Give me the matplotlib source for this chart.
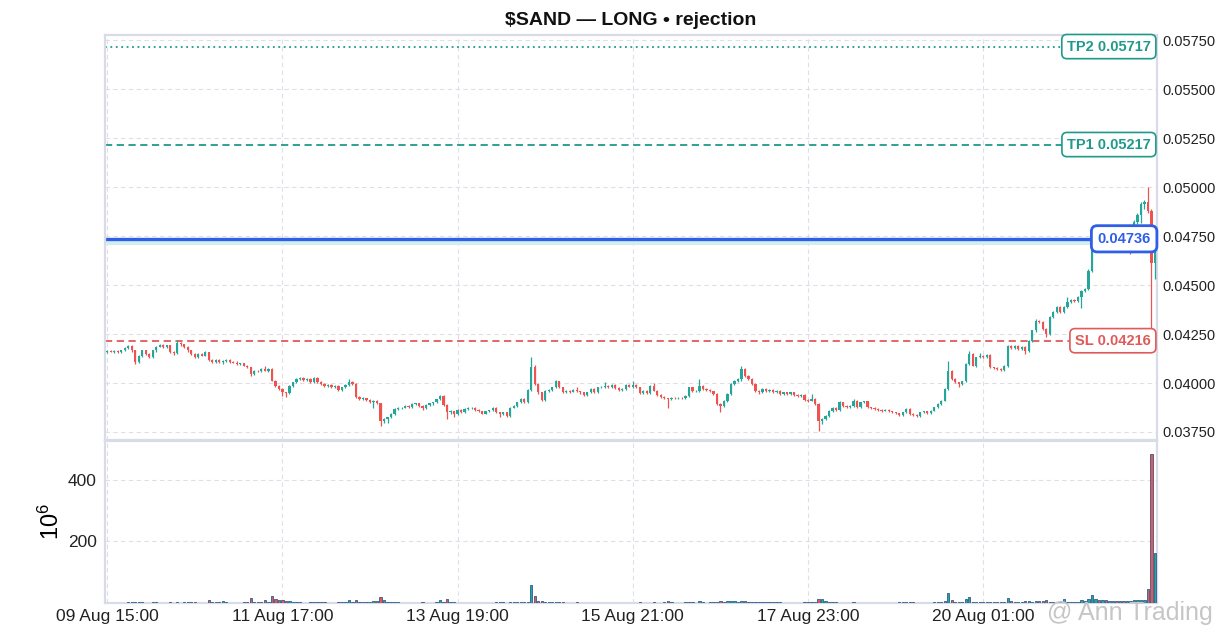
import matplotlib
matplotlib.use("Agg")
import matplotlib.pyplot as plt
import matplotlib.transforms as mtransforms
import numpy as np
import pandas as pd

plt.rcParams['font.family'] = ['Liberation Sans', 'DejaVu Sans']
plt.rcParams['mathtext.fontset'] = 'custom'
plt.rcParams['mathtext.rm'] = 'Liberation Sans'

# hourly candles, prices in units of 1e-5
start = '2025-08-09 15:00'

opens = [
    4158, 4165, 4160, 4164, 4156, 4166, 4178, 4190, 4166, 4106,
    4140, 4166, 4149, 4132, 4166, 4186, 4192, 4186, 4192, 4157,
    4152, 4203, 4197, 4183, 4166, 4149, 4132, 4149, 4140, 4157,
    4115, 4106, 4118, 4106, 4112, 4118, 4108, 4104, 4097, 4100,
    4089, 4080, 4046, 4063, 4060, 4072, 4063, 4072, 4012, 3986,
    3969, 3952, 3947, 3986, 4003, 4021, 4026, 4015, 4021, 4003,
    4026, 4003, 3995, 3986, 3991, 3978, 3986, 3964, 3978, 3991,
    4003, 3995, 3930, 3918, 3923, 3913, 3901, 3909, 3896, 3807,
    3815, 3824, 3841, 3867, 3872, 3875, 3884, 3879, 3892, 3896,
    3884, 3872, 3889, 3896, 3901, 3918, 3935, 3889, 3850, 3855,
    3844, 3861, 3850, 3867, 3870, 3875, 3861, 3855, 3844, 3855,
    3861, 3872, 3850, 3841, 3850, 3832, 3875, 3884, 3901, 3918,
    3901, 3964, 4080, 3995, 3952, 3913, 3961, 3964, 3978, 4009,
    3978, 3952, 3961, 3956, 3965, 3957, 3952, 3940, 3952, 3969,
    3952, 3978, 3981, 3986, 3978, 3991, 3974, 3964, 3969, 3991,
    3981, 3991, 3978, 3947, 3961, 3947, 3986, 3961, 3940, 3930,
    3923, 3918, 3926, 3921, 3926, 3923, 3935, 3978, 3957, 3961,
    3986, 3969, 3964, 3957, 3944, 3892, 3884, 3909, 3944, 3995,
    4012, 4018, 4072, 4038, 4021, 3995, 3961, 3952, 3969, 3957,
    3964, 3952, 3961, 3944, 3952, 3944, 3952, 3940, 3935, 3940,
    3913, 3910, 3918, 3893, 3807, 3816, 3833, 3855, 3872, 3862,
    3901, 3884, 3876, 3884, 3910, 3879, 3901, 3906, 3876, 3872,
    3867, 3862, 3859, 3862, 3855, 3850, 3845, 3838, 3850, 3867,
    3842, 3838, 3833, 3850, 3855, 3845, 3859, 3876, 3893, 3910,
    3969, 4063, 4020, 4003, 3995, 4009, 4097, 4148, 4089, 4131,
    4140, 4131, 4145, 4080, 4077, 4072, 4066, 4089, 4191, 4179,
    4191, 4174, 4186, 4165, 4216, 4268, 4319, 4310, 4276, 4250,
    4336, 4361, 4387, 4361, 4387, 4412, 4424, 4417, 4438, 4472,
    4481, 4574, 4720, 4760, 4745, 4770, 4740, 4760, 4775, 4750,
    4770, 4755, 4780, 4760, 4820, 4860, 4915, 4926, 4878, 4612,
]
highs = [
    4168, 4170, 4168, 4170, 4168, 4182, 4195, 4196, 4170, 4145,
    4170, 4170, 4155, 4168, 4190, 4200, 4198, 4196, 4196, 4162,
    4217, 4210, 4200, 4188, 4170, 4152, 4152, 4155, 4162, 4160,
    4120, 4122, 4124, 4118, 4124, 4122, 4112, 4110, 4104, 4104,
    4094, 4084, 4068, 4068, 4075, 4089, 4076, 4076, 4016, 3990,
    3972, 3956, 3990, 4006, 4024, 4032, 4030, 4025, 4025, 4032,
    4030, 4008, 4000, 3996, 3995, 3990, 3990, 3982, 3996, 4021,
    4008, 3998, 3934, 3928, 3926, 3916, 3912, 3912, 3900, 3820,
    3828, 3845, 3870, 3876, 3880, 3888, 3888, 3896, 3900, 3900,
    3888, 3892, 3898, 3905, 3920, 3940, 3940, 3892, 3862, 3858,
    3866, 3865, 3872, 3876, 3880, 3878, 3865, 3858, 3858, 3864,
    3876, 3876, 3854, 3854, 3854, 3878, 3888, 3905, 3922, 3922,
    3968, 4132, 4094, 4000, 3956, 3966, 3970, 3982, 4015, 4012,
    3982, 3965, 3965, 3970, 3978, 3960, 3956, 3956, 3972, 3972,
    3980, 3986, 4003, 3990, 3994, 3995, 3978, 3972, 3995, 3995,
    4008, 3995, 3982, 3964, 3965, 3992, 3998, 3965, 3944, 3934,
    3926, 3930, 3930, 3930, 3930, 3940, 3982, 3982, 3964, 4021,
    3990, 3972, 3968, 3960, 3948, 3896, 3912, 3948, 3998, 4016,
    4024, 4089, 4076, 4042, 4025, 3998, 3965, 3972, 3972, 3968,
    3968, 3965, 3965, 3956, 3956, 3955, 3956, 3944, 3946, 3944,
    3916, 3944, 3922, 3896, 3820, 3838, 3860, 3876, 3876, 3906,
    3905, 3888, 3888, 3918, 3914, 3904, 3910, 3910, 3880, 3876,
    3871, 3866, 3866, 3866, 3858, 3854, 3848, 3854, 3870, 3870,
    3846, 3842, 3854, 3858, 3858, 3862, 3880, 3896, 3912, 3972,
    4114, 4068, 4024, 4006, 4012, 4100, 4165, 4152, 4135, 4152,
    4144, 4150, 4148, 4084, 4080, 4076, 4092, 4195, 4195, 4196,
    4195, 4190, 4190, 4220, 4272, 4325, 4323, 4314, 4280, 4340,
    4366, 4392, 4391, 4392, 4441, 4428, 4428, 4444, 4476, 4486,
    4580, 4760, 4770, 4775, 4780, 4778, 4766, 4782, 4780, 4776,
    4776, 4790, 4786, 4830, 4866, 4925, 4935, 5002, 4890, 4690,
]
lows = [
    4154, 4158, 4155, 4152, 4152, 4162, 4172, 4160, 4097, 4100,
    4135, 4145, 4128, 4128, 4160, 4182, 4180, 4180, 4152, 4145,
    4148, 4190, 4178, 4160, 4145, 4126, 4128, 4136, 4136, 4110,
    4100, 4100, 4102, 4098, 4106, 4104, 4100, 4094, 4090, 4085,
    4076, 4038, 4042, 4056, 4056, 4060, 4058, 4010, 3982, 3964,
    3935, 3930, 3944, 3982, 3998, 4016, 4010, 4010, 4000, 3998,
    4000, 3990, 3982, 3982, 3974, 3974, 3960, 3960, 3974, 3986,
    3990, 3925, 3912, 3912, 3908, 3896, 3875, 3892, 3781, 3798,
    3798, 3820, 3836, 3862, 3866, 3870, 3874, 3875, 3888, 3880,
    3861, 3868, 3884, 3890, 3896, 3912, 3884, 3815, 3840, 3824,
    3838, 3845, 3846, 3862, 3865, 3858, 3850, 3840, 3840, 3850,
    3856, 3846, 3824, 3836, 3828, 3828, 3870, 3880, 3896, 3896,
    3896, 3960, 3990, 3946, 3908, 3908, 3956, 3960, 3974, 3974,
    3948, 3948, 3950, 3952, 3954, 3946, 3936, 3936, 3948, 3948,
    3948, 3974, 3976, 3974, 3974, 3970, 3960, 3960, 3965, 3978,
    3976, 3974, 3944, 3942, 3944, 3942, 3958, 3936, 3926, 3918,
    3875, 3912, 3916, 3916, 3918, 3918, 3930, 3954, 3952, 3956,
    3966, 3960, 3954, 3940, 3888, 3850, 3878, 3904, 3940, 3990,
    4005, 4012, 4030, 4016, 3990, 3956, 3946, 3948, 3952, 3952,
    3948, 3948, 3940, 3940, 3940, 3940, 3936, 3930, 3930, 3910,
    3904, 3906, 3888, 3756, 3790, 3810, 3828, 3850, 3858, 3858,
    3880, 3872, 3872, 3880, 3875, 3875, 3896, 3872, 3868, 3862,
    3858, 3854, 3855, 3852, 3846, 3840, 3834, 3834, 3846, 3838,
    3834, 3824, 3828, 3846, 3840, 3840, 3855, 3872, 3888, 3906,
    3965, 4016, 3998, 3978, 3990, 4004, 4092, 4085, 4084, 4126,
    4126, 4126, 4076, 4072, 4068, 4060, 4062, 4084, 4175, 4174,
    4170, 4170, 4148, 4160, 4210, 4262, 4305, 4272, 4237, 4245,
    4330, 4356, 4356, 4356, 4382, 4406, 4412, 4412, 4385, 4466,
    4476, 4568, 4712, 4690, 4738, 4668, 4732, 4752, 4742, 4744,
    4748, 4750, 4660, 4750, 4810, 4815, 4890, 4870, 4281, 4530,
]
closes = [
    4165, 4160, 4164, 4156, 4166, 4178, 4190, 4166, 4106, 4140,
    4166, 4149, 4132, 4166, 4186, 4192, 4186, 4192, 4157, 4152,
    4203, 4197, 4183, 4166, 4149, 4132, 4149, 4140, 4157, 4115,
    4106, 4118, 4106, 4112, 4118, 4108, 4104, 4097, 4100, 4089,
    4080, 4046, 4063, 4060, 4072, 4063, 4072, 4012, 3986, 3969,
    3952, 3947, 3986, 4003, 4021, 4026, 4015, 4021, 4003, 4026,
    4003, 3995, 3986, 3991, 3978, 3986, 3964, 3978, 3991, 4003,
    3995, 3930, 3918, 3923, 3913, 3901, 3909, 3896, 3807, 3815,
    3824, 3841, 3867, 3872, 3875, 3884, 3879, 3892, 3896, 3884,
    3872, 3889, 3896, 3901, 3918, 3935, 3889, 3850, 3855, 3844,
    3861, 3850, 3867, 3870, 3875, 3861, 3855, 3844, 3855, 3861,
    3872, 3850, 3841, 3850, 3832, 3875, 3884, 3901, 3918, 3901,
    3964, 4080, 3995, 3952, 3913, 3961, 3964, 3978, 4009, 3978,
    3952, 3961, 3956, 3965, 3957, 3952, 3940, 3952, 3969, 3952,
    3978, 3981, 3986, 3978, 3991, 3974, 3964, 3969, 3991, 3981,
    3991, 3978, 3947, 3961, 3947, 3986, 3961, 3940, 3930, 3923,
    3918, 3926, 3921, 3926, 3923, 3935, 3978, 3957, 3961, 3986,
    3969, 3964, 3957, 3944, 3892, 3884, 3909, 3944, 3995, 4012,
    4018, 4072, 4038, 4021, 3995, 3961, 3952, 3969, 3957, 3964,
    3952, 3961, 3944, 3952, 3944, 3952, 3940, 3935, 3940, 3913,
    3910, 3918, 3893, 3807, 3816, 3833, 3855, 3872, 3862, 3901,
    3884, 3876, 3884, 3910, 3879, 3901, 3906, 3876, 3872, 3867,
    3862, 3859, 3862, 3855, 3850, 3845, 3838, 3850, 3867, 3842,
    3838, 3833, 3850, 3855, 3845, 3859, 3876, 3893, 3910, 3969,
    4063, 4020, 4003, 3995, 4009, 4097, 4148, 4089, 4131, 4140,
    4131, 4145, 4080, 4077, 4072, 4066, 4089, 4191, 4179, 4191,
    4174, 4186, 4165, 4216, 4268, 4319, 4310, 4276, 4250, 4336,
    4361, 4387, 4361, 4387, 4412, 4424, 4417, 4438, 4472, 4481,
    4574, 4720, 4760, 4745, 4770, 4740, 4760, 4775, 4750, 4770,
    4755, 4780, 4760, 4820, 4860, 4915, 4926, 4878, 4612, 4675,
]
# volume in millions
volumes = [
    1.2, 0.8, 0.9, 1.0, 0.7, 1.5, 1.8, 3.0, 4.5, 2.5,
    1.6, 1.2, 1.4, 1.7, 1.9, 1.1, 0.8, 0.9, 1.6, 1.2,
    3.2, 1.5, 2.8, 3.4, 2.6, 3.0, 1.4, 1.2, 1.5, 9.5,
    2.4, 1.8, 2.0, 8.0, 1.6, 1.3, 1.2, 1.5, 1.0, 2.2,
    3.0, 15.5, 4.0, 2.2, 3.0, 9.0, 2.4, 22.0, 12.0, 10.5,
    9.0, 6.0, 7.5, 4.0, 3.2, 3.0, 1.5, 1.4, 2.0, 2.6,
    2.2, 1.8, 1.6, 1.2, 1.5, 1.3, 2.0, 1.6, 2.4, 9.0,
    3.5, 8.5, 4.0, 1.8, 2.2, 2.0, 5.0, 7.0, 18.0, 8.5,
    4.0, 3.0, 3.5, 1.6, 1.2, 1.0, 0.9, 1.1, 1.0, 1.2,
    1.8, 1.5, 1.2, 1.4, 2.0, 8.5, 4.5, 13.0, 3.0, 2.0,
    1.5, 1.4, 1.5, 1.2, 1.0, 1.1, 1.0, 1.3, 1.1, 1.0,
    1.2, 1.6, 4.0, 1.8, 1.5, 2.5, 1.8, 2.2, 2.6, 4.0,
    4.5, 57.0, 22.0, 6.0, 7.5, 4.5, 2.5, 2.0, 3.5, 2.8,
    2.4, 1.4, 1.2, 1.0, 1.6, 1.2, 1.3, 1.0, 1.1, 1.2,
    1.4, 1.0, 1.5, 1.0, 0.9, 1.1, 1.2, 0.8, 1.0, 0.9,
    1.2, 1.0, 1.6, 1.1, 1.0, 1.4, 2.0, 1.5, 1.2, 1.8,
    7.0, 2.0, 1.4, 1.2, 1.5, 1.6, 3.5, 2.0, 1.4, 8.0,
    2.5, 1.5, 1.6, 2.0, 4.0, 5.5, 3.0, 6.0, 8.0, 7.0,
    3.5, 8.0, 5.0, 4.5, 3.5, 4.0, 2.8, 3.0, 4.2, 2.2,
    3.5, 2.0, 1.6, 1.5, 1.4, 1.2, 1.0, 1.5, 1.2, 1.8,
    2.0, 3.0, 4.0, 12.0, 11.5, 6.0, 4.0, 3.5, 1.6, 1.4,
    1.5, 1.2, 1.0, 3.5, 1.4, 1.2, 1.0, 1.3, 1.1, 1.0,
    1.2, 1.0, 0.9, 1.4, 1.1, 1.0, 3.0, 2.5, 3.2, 2.0,
    1.6, 1.4, 1.5, 1.2, 1.0, 1.4, 2.0, 2.6, 3.0, 6.0,
    32.0, 9.0, 3.0, 2.0, 2.5, 12.0, 18.0, 4.0, 3.0, 2.4,
    2.0, 1.8, 3.5, 2.5, 1.8, 2.2, 3.5, 16.0, 6.0, 4.0,
    3.0, 2.5, 8.0, 5.5, 4.5, 6.5, 7.5, 5.5, 9.0, 4.0,
    3.5, 3.0, 2.5, 12.0, 4.0, 3.5, 2.8, 3.2, 9.5, 8.0,
    12.0, 26.0, 14.0, 10.0, 11.0, 9.0, 6.0, 5.5, 6.0, 5.0,
    6.5, 5.0, 7.5, 9.0, 10.0, 9.5, 11.0, 47.0, 483.0, 162.0,
]

levels = {'TP2': 0.05717, 'TP1': 0.05217, 'SL': 0.04216}
entry = 0.04736
zone = (0.04702, 0.04742)

UP = '#26a69a'
DOWN = '#ef5350'
TEAL = '#1f9a8a'
BLUE = '#2f5fe6'
RED = '#e05a5a'
GRID = '#dedfe8'
SPINE = '#d9dbe7'

o = np.array(opens) / 1e5
h = np.array(highs) / 1e5
l = np.array(lows) / 1e5
c = np.array(closes) / 1e5
v = np.array(volumes)
n = len(c)
x = np.arange(n)
dates = pd.date_range(start, periods=n, freq='h')

fig = plt.figure(figsize=(12.23, 6.38), dpi=100)
ax = fig.add_axes([0.0859, 0.3103, 0.8602, 0.6348])
axv = fig.add_axes([0.0859, 0.0549, 0.8602, 0.2540], sharex=ax)

up = c >= o
cols = np.where(up, UP, DOWN)

# zone + levels
ax.axhspan(zone[0], zone[1], color='#d3efed', zorder=1, lw=0)
ax.axhline(entry, color=BLUE, lw=2.4, zorder=2)
ax.axhline(levels['TP2'], color=TEAL, lw=1.3, ls=(0, (1, 2)), zorder=2)
ax.axhline(levels['TP1'], color=TEAL, lw=1.3, ls=(0, (4, 2.5)), zorder=2)
ax.axhline(levels['SL'], color=RED, lw=1.3, ls=(0, (4, 2.5)), zorder=2)

# candles
ax.vlines(x, l, h, colors=cols, lw=0.9, zorder=3)
body = np.maximum(np.abs(c - o), 0.000012)
ax.bar(x, body, bottom=np.minimum(o, c), width=0.65, color=cols, lw=0, zorder=4)

# labels on the right edge
trans = mtransforms.blended_transform_factory(ax.transAxes, ax.transData)
for name, col in [('TP2', TEAL), ('TP1', TEAL), ('SL', RED)]:
    val = levels[name]
    ax.text(0.994, val, f'{name} {val:.5f}', transform=trans, ha='right', va='center',
            fontsize=10.5, fontweight='bold', color=col, zorder=6,
            bbox=dict(boxstyle='round,pad=0.35,rounding_size=0.35', fc='white', ec=col, lw=1.2))
ax.text(0.994, entry, f'{entry:.5f}', transform=trans, ha='right', va='center',
        fontsize=10.5, fontweight='bold', color=BLUE, zorder=6,
        bbox=dict(boxstyle='round,pad=0.42,rounding_size=0.4', fc='white', ec=BLUE, lw=2))

ax.set_ylim(0.03709, 0.05776)
ax.set_xlim(-0.6, n - 0.4)
ax.set_yticks(np.arange(0.0375, 0.05751, 0.0025))
ax.yaxis.tick_right()
ax.yaxis.set_major_formatter(plt.FuncFormatter(lambda y, p: f'{y:.5f}'))
ax.tick_params(axis='y', length=0, labelsize=10.5, pad=4, labelcolor='#222222')
ax.tick_params(axis='x', length=0, labelbottom=False)
ax.set_title('\\$SAND — LONG • rejection', fontsize=14, fontweight='bold', pad=7, color='#111111')

# volume
axv.bar(x, v, width=0.65, color=cols, edgecolor='#2d5d8f', lw=0.6, zorder=3)
axv.set_ylim(0, 527)
axv.set_yticks([200, 400])
axv.tick_params(axis='y', length=0, labelsize=12.5, pad=6, labelcolor='#222222')
axv.set_ylabel('$\\mathregular{10^6}$', fontsize=17, labelpad=3)

ticks = list(range(0, n, 50))
axv.set_xticks(ticks)
axv.set_xticklabels([dates[i].strftime('%d %b %H:%M') for i in ticks])
axv.tick_params(axis='x', length=0, labelsize=12.5, pad=4, labelcolor='#222222')

for a in (ax, axv):
    a.set_facecolor('white')
    a.grid(True, color=GRID, ls=(0, (4, 3)), lw=0.8, zorder=0)
    a.set_axisbelow(True)
    for s in a.spines.values():
        s.set_color(SPINE)
        s.set_linewidth(1.6)

fig.text(0.992, 0.039, '@ Ann Trading', ha='right', va='center', fontsize=18, color='#c6c6c6')

fig.savefig('out.png', dpi=100, facecolor='white')
